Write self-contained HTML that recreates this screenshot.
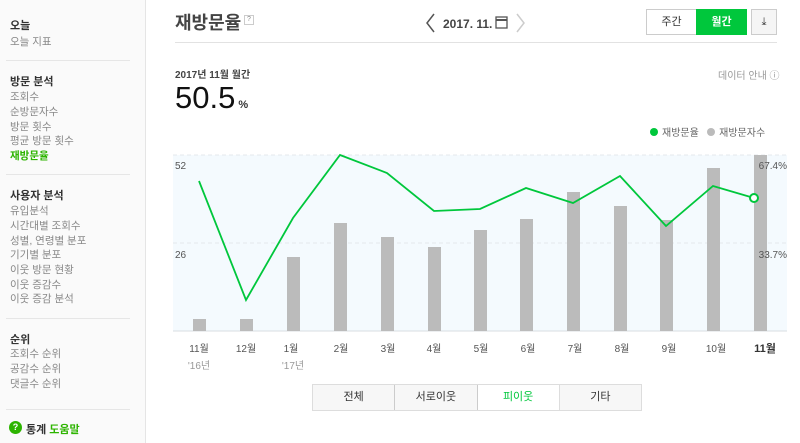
<!DOCTYPE html>
<html><head><meta charset="utf-8"><style>
*{margin:0;padding:0;box-sizing:border-box}
body{width:800px;height:443px;overflow:hidden;background:#fff;font-family:"Liberation Sans","Noto Sans CJK KR",sans-serif;position:relative}
.a{position:absolute;white-space:nowrap}
#side{position:absolute;left:0;top:0;width:146px;height:443px;background:#fafafa;border-right:1px solid #e5e5e5}
.h{font-size:11px;font-weight:bold;color:#333;left:10px}
.i{font-size:10.5px;color:#888;left:10px}
.d{position:absolute;left:6px;width:124px;height:1px;background:#e6e6e6}
</style></head><body>
<div id="side">
<div class="a h" style="top:17px">오늘</div>
<div class="a i" style="top:34px">오늘 지표</div>
<div class="d" style="top:60px"></div>
<div class="a h" style="top:73px">방문 분석</div>
<div class="a i" style="top:89px">조회수</div>
<div class="a i" style="top:104px">순방문자수</div>
<div class="a i" style="top:119px">방문 횟수</div>
<div class="a i" style="top:133px">평균 방문 횟수</div>
<div class="a i" style="top:148px;color:#2db400;font-weight:bold">재방문율</div>
<div class="d" style="top:174px"></div>
<div class="a h" style="top:187px">사용자 분석</div>
<div class="a i" style="top:203px">유입분석</div>
<div class="a i" style="top:218px">시간대별 조회수</div>
<div class="a i" style="top:233px">성별, 연령별 분포</div>
<div class="a i" style="top:247px">기기별 분포</div>
<div class="a i" style="top:262px">이웃 방문 현황</div>
<div class="a i" style="top:277px">이웃 증감수</div>
<div class="a i" style="top:291px">이웃 증감 분석</div>
<div class="d" style="top:318px"></div>
<div class="a h" style="top:331px">순위</div>
<div class="a i" style="top:346px">조회수 순위</div>
<div class="a i" style="top:361px">공감수 순위</div>
<div class="a i" style="top:376px">댓글수 순위</div>
<div class="d" style="top:409px"></div>
<div class="a" style="top:421px;left:9px;width:13px;height:13px;border-radius:50%;background:#2db400;color:#fff;font-size:9px;font-weight:bold;text-align:center;line-height:13px">?</div>
<div class="a" style="top:421px;left:26px;font-size:11px;font-weight:bold;color:#333">통계 <span style="color:#2db400">도움말</span></div>
</div>

<div class="a" style="left:175px;top:9px;font-size:18px;font-weight:bold;color:#444">재방문율</div>
<div class="a" style="left:244px;top:15px;width:10px;height:10px;border:1px solid #ccc;font-size:7px;color:#888;text-align:center;line-height:8px">?</div>
<div class="a" style="left:175px;top:42px;width:602px;height:1px;background:#e2e2e2"></div>
<svg class="a" style="left:424px;top:11px" width="110" height="24">
<polyline points="10,3 3,12 10,21" fill="none" stroke="#555" stroke-width="1.5"/>
<text x="19" y="17" font-size="12" font-weight="bold" fill="#444" font-family="Liberation Sans">2017. 11.</text>
<rect x="72" y="6" width="11" height="11" fill="none" stroke="#555" stroke-width="1.3"/><line x1="72" y1="9" x2="83" y2="9" stroke="#555" stroke-width="2"/>
<polyline points="93,3 100,12 93,21" fill="none" stroke="#ccc" stroke-width="1.5"/>
</svg>
<div class="a" style="left:646px;top:9px;width:51px;height:26px;border:1px solid #ccc;font-size:11px;color:#333;text-align:center;line-height:24px">주간</div>
<div class="a" style="left:696px;top:9px;width:51px;height:26px;background:#00c73c;font-size:11px;color:#fff;font-weight:bold;text-align:center;line-height:26px">월간</div>
<div class="a" style="left:751px;top:9px;width:26px;height:26px;border:1px solid #ccc;background:#f5f5f5;font-size:11px;color:#333;text-align:center;line-height:24px">⤓</div>

<div class="a" style="left:175px;top:66px;font-size:10px;font-weight:bold;color:#444">2017년 11월 월간</div>
<div class="a" style="left:175px;top:80px;font-size:31px;color:#111">50.5<span style="font-size:11px;font-weight:bold;color:#333"> %</span></div>
<div class="a" style="left:718px;top:67px;font-size:10px;color:#999">데이터 안내 ⓘ</div>
<div class="a" style="left:650px;top:124px;font-size:10px;color:#666"><span style="display:inline-block;width:8px;height:8px;border-radius:50%;background:#00c73c;margin-right:4px"></span>재방문율 &nbsp;&nbsp;<span style="display:inline-block;width:8px;height:8px;border-radius:50%;background:#bbb;margin-right:4px"></span>재방문자수</div>

<svg class="a" style="left:0;top:0" width="800" height="443" font-family="Liberation Sans, Noto Sans CJK KR, sans-serif">
<rect x="173" y="155" width="614" height="176" fill="#f4fafe"/>
<line x1="173" y1="155" x2="787" y2="155" stroke="#e4e8ec" stroke-dasharray="4,3"/>
<line x1="173" y1="243" x2="787" y2="243" stroke="#e4e8ec" stroke-dasharray="4,3"/>
<line x1="173" y1="331" x2="787" y2="331" stroke="#d8dde2"/>
<g fill="#bbb">
<rect x="193" y="319" width="13" height="12"/><rect x="240" y="319" width="13" height="12"/>
<rect x="287" y="257" width="13" height="74"/><rect x="334" y="223" width="13" height="108"/>
<rect x="381" y="237" width="13" height="94"/><rect x="428" y="247" width="13" height="84"/>
<rect x="474" y="230" width="13" height="101"/><rect x="520" y="219" width="13" height="112"/>
<rect x="567" y="192" width="13" height="139"/><rect x="614" y="206" width="13" height="125"/>
<rect x="660" y="220" width="13" height="111"/><rect x="707" y="168" width="13" height="163"/>
<rect x="754" y="155" width="13" height="176"/>
</g>
<g font-size="10" fill="#555"><text x="175" y="169">52</text><text x="175" y="258">26</text>
<text x="787" y="169" text-anchor="end">67.4%</text><text x="787" y="258" text-anchor="end">33.7%</text></g>
<polyline points="199,181 246,300 293,218 340,155 387,173 434,211 480,209 526,188 573,203 620,176 666,226 713,186 754,198" fill="none" stroke="#00c73c" stroke-width="1.8"/>
<circle cx="754" cy="198" r="4" fill="#fff" stroke="#00c73c" stroke-width="2"/>
<g font-size="10" fill="#555" text-anchor="middle">
<text x="199" y="352">11월</text><text x="246" y="352">12월</text><text x="291" y="352">1월</text><text x="341" y="352">2월</text><text x="388" y="352">3월</text><text x="434" y="352">4월</text><text x="481" y="352">5월</text><text x="528" y="352">6월</text><text x="575" y="352">7월</text><text x="622" y="352">8월</text><text x="669" y="352">9월</text><text x="716" y="352">10월</text><text x="765" y="352" font-weight="bold" fill="#333" font-size="11">11월</text>
<text x="199" y="369" fill="#999">'16년</text><text x="293" y="369" fill="#999">'17년</text>
</g>
</svg>
<div class="a" style="left:312px;top:384px;width:330px;height:27px;border:1px solid #ddd;display:flex;background:#f7f7f7;font-size:11px;color:#333">
<div style="flex:1;text-align:center;line-height:25px;border-right:1px solid #ccc">전체</div>
<div style="flex:1;text-align:center;line-height:25px;border-right:1px solid #ccc">서로이웃</div>
<div style="flex:1;text-align:center;line-height:25px;border-right:1px solid #ddd;background:#fff;color:#00c73c">피이웃</div>
<div style="flex:1;text-align:center;line-height:25px">기타</div>
</div>
</body></html>
